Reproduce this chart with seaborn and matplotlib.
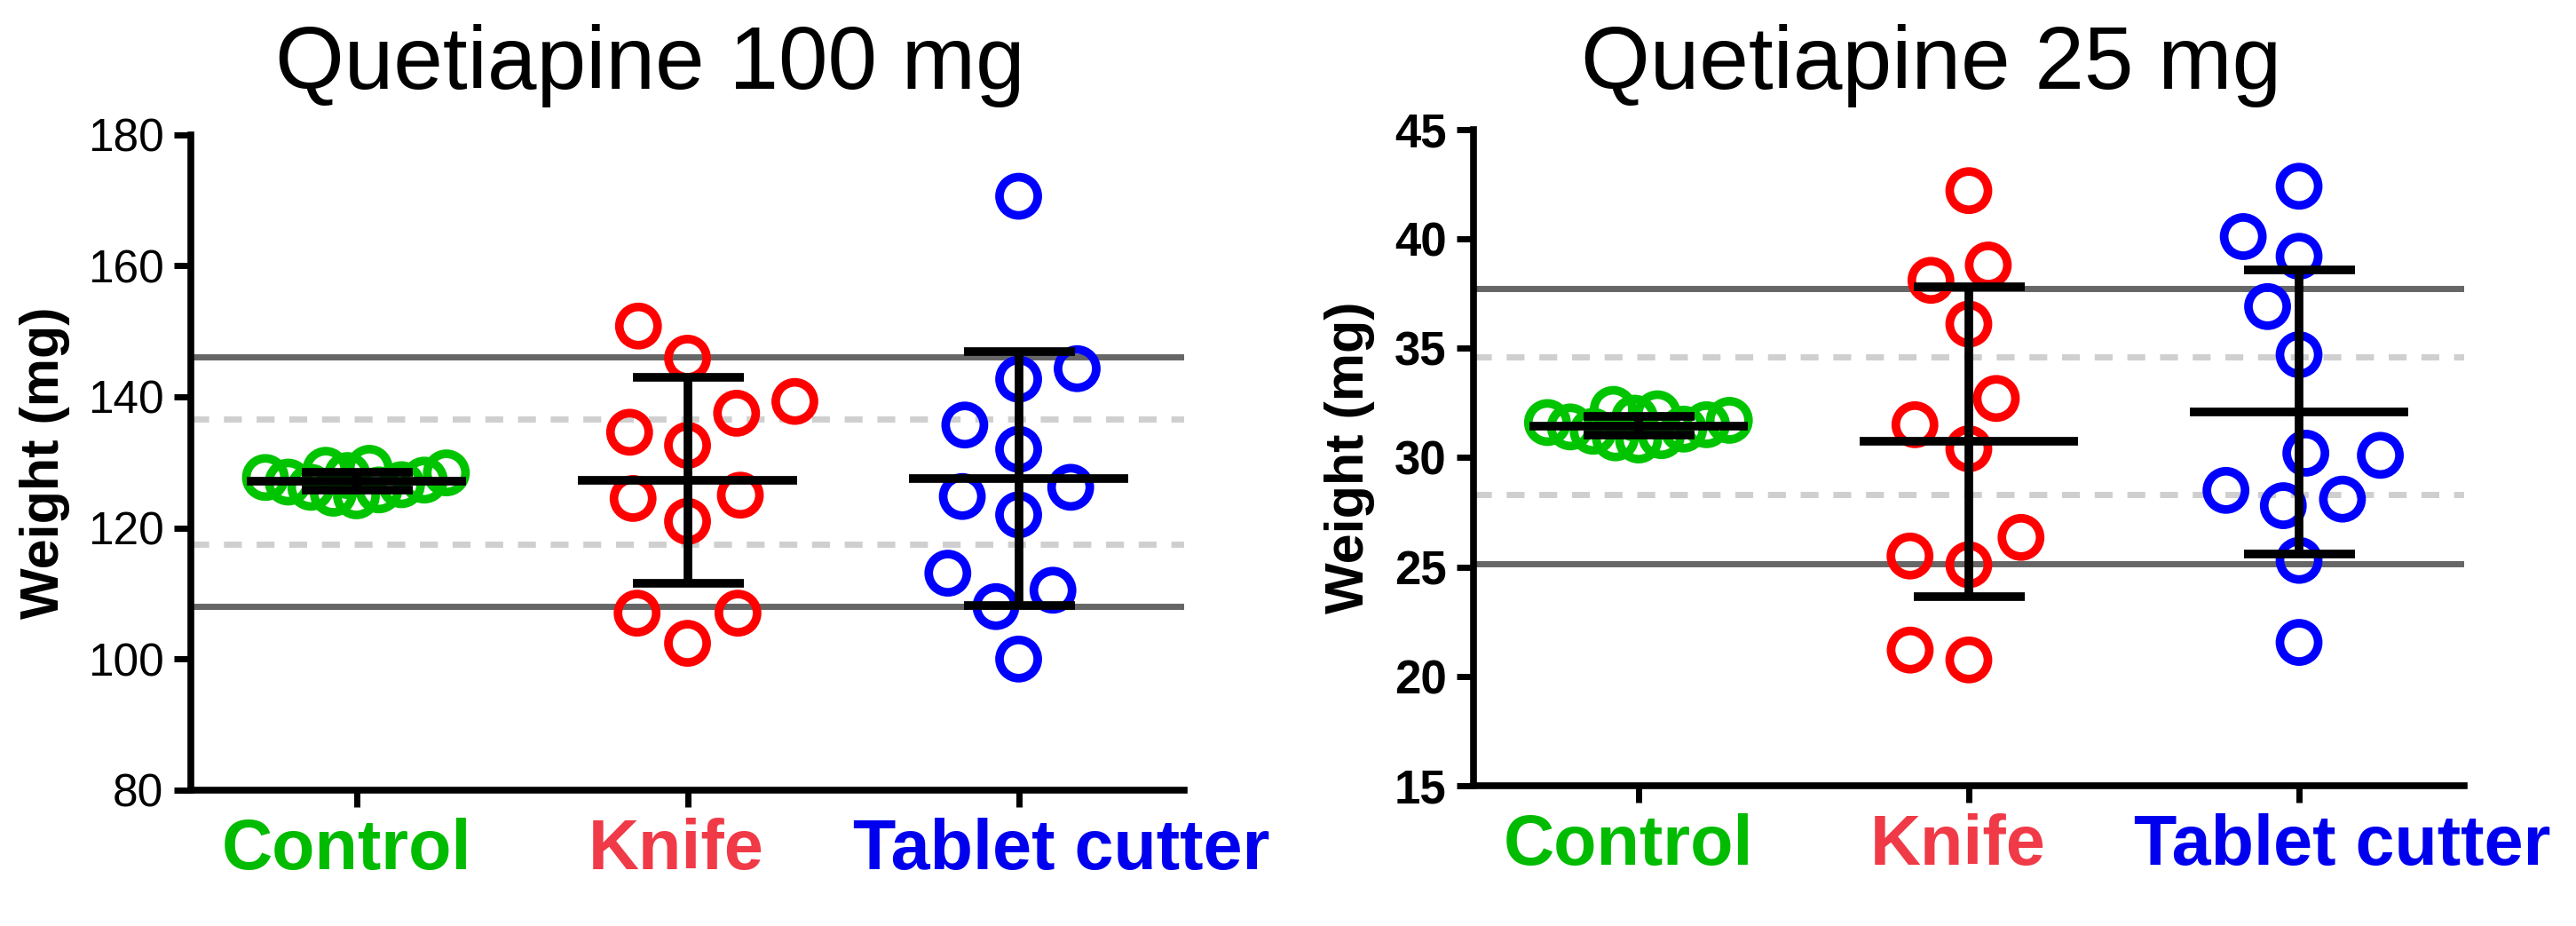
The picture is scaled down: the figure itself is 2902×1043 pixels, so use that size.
import numpy as np
import pandas as pd
import seaborn as sns
import matplotlib.pyplot as plt
import matplotlib.transforms as mtransforms
from matplotlib.colors import to_rgba

# 分组
groups = ['Control', 'Knife', 'Tablet cutter']

# Quetiapine 100 mg, 每片重量 (mg)
control_100 = [129.1, 128.8, 128.4, 128.0, 127.7, 127.3, 127.0, 126.6, 126.2, 125.8, 125.3, 124.9]
knife_100 = [150.8, 145.9, 139.3, 137.5, 134.6, 132.6, 125.0, 124.5, 121.0, 107.0, 107.0, 102.4]
cutter_100 = [170.6, 144.3, 142.7, 135.7, 132.0, 126.2, 124.8, 122.0, 113.1, 110.5, 108.0, 100.0]

# Quetiapine 25 mg
control_25 = [32.2, 32.0, 31.8, 31.7, 31.6, 31.5, 31.4, 31.3, 31.2, 31.0, 30.9, 30.8]
knife_25 = [42.2, 38.8, 38.1, 36.1, 32.7, 31.5, 30.4, 26.35, 25.5, 25.1, 21.2, 20.75]
cutter_25 = [42.4, 40.1, 39.2, 36.9, 34.7, 30.2, 30.1, 28.5, 28.1, 27.8, 25.3, 21.55]

titles = ['Quetiapine 100 mg', 'Quetiapine 25 mg']
yticks_100 = [80, 100, 120, 140, 160, 180]
yticks_25 = [15, 20, 25, 30, 35, 40, 45]

# 允许偏差 (相对于对照组均值)
limits_100 = [0.075, 0.15]
limits_25 = [0.10, 0.20]

point_colors = {'Control': '#00C400', 'Knife': '#FF0000', 'Tablet cutter': '#0000FF'}
label_colors = {'Control': '#00BB00', 'Knife': '#F03A47', 'Tablet cutter': '#0000EE'}
# 蜂群排布时用的点径 (pt), 对照组排得更紧
layout_sizes = {'Control': 18, 'Knife': 46, 'Tablet cutter': 46}
# x 轴标签的水平微调 (pt)
label_shift = {'Control': -8, 'Knife': -9, 'Tablet cutter': 35}


def make_df(control, knife, cutter):
    return pd.DataFrame({
        'group': ['Control'] * len(control) + ['Knife'] * len(knife) + ['Tablet cutter'] * len(cutter),
        'weight': control + knife + cutter,
    })


sns.set_style('ticks')
plt.rcParams['font.family'] = ['Liberation Sans', 'DejaVu Sans']
plt.rcParams['text.color'] = 'black'
plt.rcParams['axes.labelcolor'] = 'black'
plt.rcParams['xtick.color'] = 'black'
plt.rcParams['ytick.color'] = 'black'

fig = plt.figure(figsize=(29.02, 10.43), dpi=100)
ax1 = fig.add_axes([0.0741, 0.1467, 0.3856, 0.7079])
ax2 = fig.add_axes([0.5720, 0.1515, 0.3846, 0.7088])

swarms = []


def draw_panel(ax, df, title, yticks, limits, bold_ticks, title_pad, ylabel_x):
    ax.set_xlim(-0.5, 2.5)
    ax.set_ylim(yticks[0], yticks[-1])

    # 对照组均值的偏差线
    ctrl_mean = df.loc[df['group'] == 'Control', 'weight'].mean()
    inner, outer = limits
    for sign in (1, -1):
        ax.axhline(ctrl_mean * (1 + sign * outer), color='#666666', lw=5, zorder=1)
        ax.axhline(ctrl_mean * (1 + sign * inner), color='#CFCFCF', lw=5,
                   ls=(0, (2.9, 2.4)), zorder=1)

    n0 = len(ax.collections)
    sns.swarmplot(data=df, x='group', y='weight', hue='group', order=groups,
                  hue_order=groups, palette=point_colors, size=27, linewidth=0,
                  legend=False, ax=ax, zorder=3)
    for coll in ax.collections[n0:]:
        fc = tuple(coll.get_facecolor()[0])
        g = [k for k, v in point_colors.items() if np.allclose(to_rgba(v), fc)][0]
        coll.set_sizes([layout_sizes[g] ** 2])
        swarms.append(coll)

    # 均值 ± SD
    stats = df.groupby('group')['weight'].agg(['mean', 'std']).reindex(groups)
    xs = np.arange(len(groups))
    ax.errorbar(xs, stats['mean'], yerr=stats['std'], fmt='none', ecolor='black',
                elinewidth=7, capsize=45, capthick=7, zorder=4)
    ax.hlines(stats['mean'], xs - 0.33, xs + 0.33, color='black', lw=7, zorder=5)

    ax.set_xlim(-0.5, 2.5)
    ax.set_ylim(yticks[0], yticks[-1])
    ax.set_yticks(yticks)
    sns.despine(ax=ax)
    for s in ['left', 'bottom']:
        ax.spines[s].set_linewidth(5.5)
        ax.spines[s].set_color('black')
    ax.tick_params(axis='both', length=14, width=5, color='black')
    ax.tick_params(axis='y', labelsize=38 if bold_ticks else 37, pad=8)
    ax.tick_params(axis='x', labelsize=57, pad=8)
    for lbl in ax.get_xticklabels():
        name = lbl.get_text()
        lbl.set_color(label_colors[name])
        lbl.set_fontweight('bold')
        lbl.set_transform(lbl.get_transform() + mtransforms.ScaledTranslation(
            label_shift[name] / 72, 0, fig.dpi_scale_trans))
    if bold_ticks:
        for lbl in ax.get_yticklabels():
            lbl.set_fontweight('bold')

    ax.set_xlabel('')
    ax.set_ylabel('Weight (mg)', fontsize=44, fontweight='bold')
    ax.yaxis.set_label_coords(ylabel_x, 0.5)
    ax.set_title(title, fontsize=72, x=0.462, pad=title_pad)


draw_panel(ax1, make_df(control_100, knife_100, cutter_100), titles[0], yticks_100,
           limits_100, False, 37, -0.122)
draw_panel(ax2, make_df(control_25, knife_25, cutter_25), titles[1], yticks_25,
           limits_25, True, 33, -0.099)

# 先算出蜂群位置, 再换成空心大圆圈 (允许重叠)
fig.canvas.draw()
for coll in swarms:
    if 'draw' in coll.__dict__:
        del coll.draw
    fc = coll.get_facecolor()
    coll.set_edgecolor(fc)
    coll.set_facecolor('none')
    coll.set_sizes([31 ** 2])
    coll.set_linewidth(7)

fig.savefig('out.png', dpi=100)
plt.close(fig)
